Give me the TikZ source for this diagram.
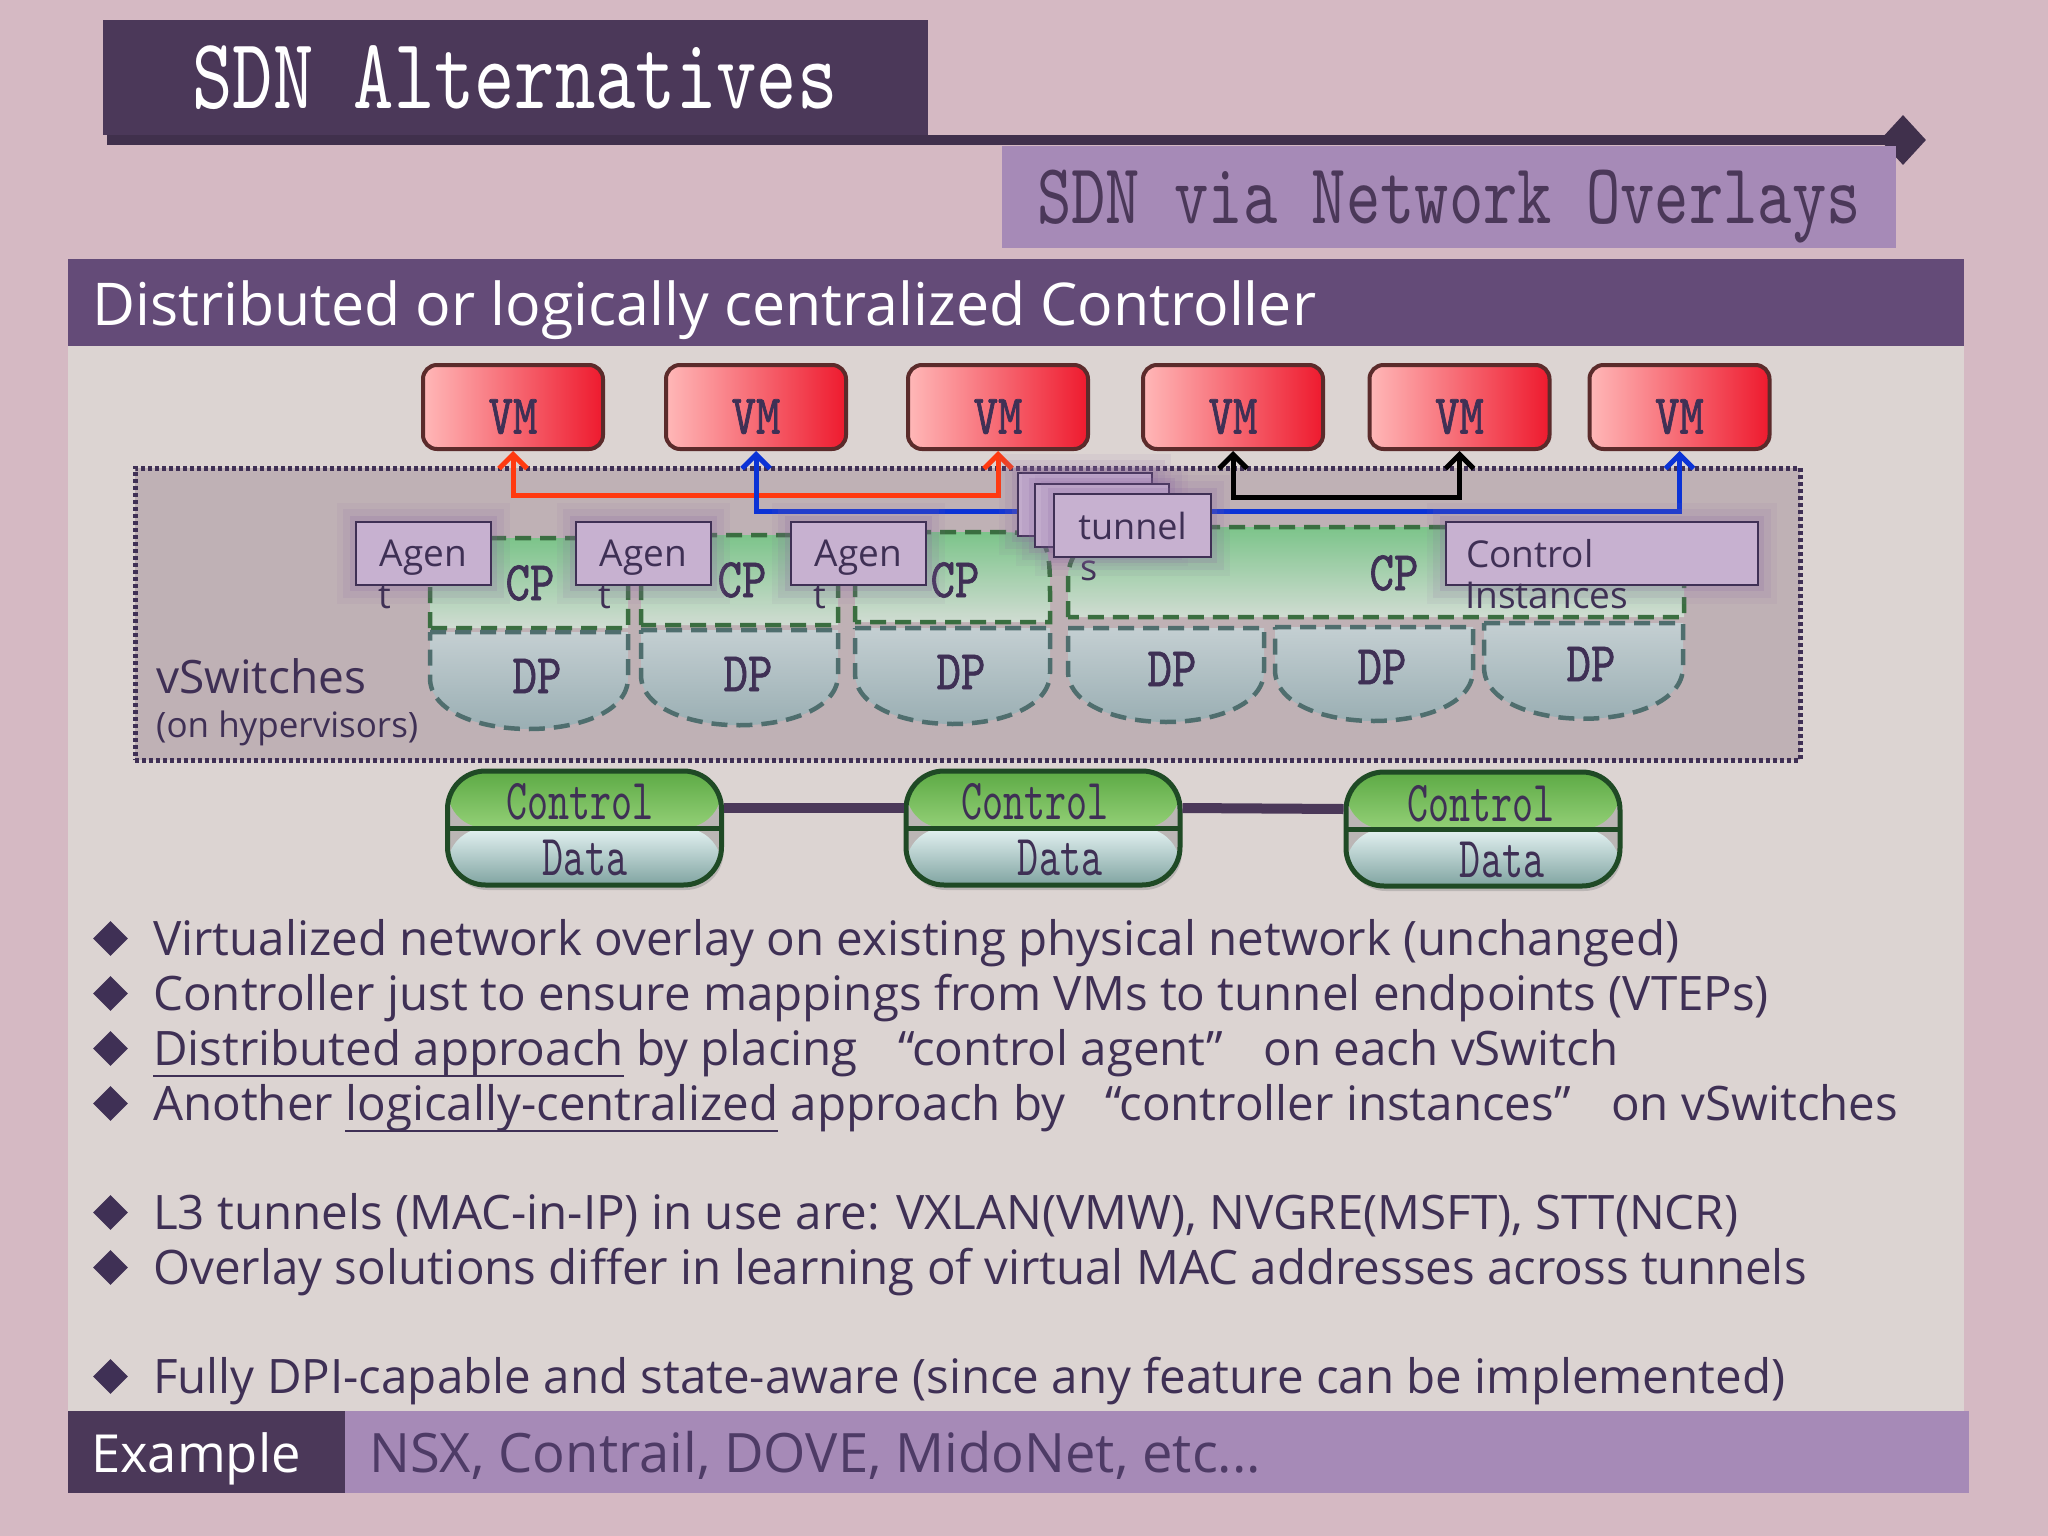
\documentclass[tikz,border=0pt]{standalone}
\usepackage{fontspec}
\setmainfont{Open Sans}
\newfontfamily\titlefont[FakeStretch=0.76]{lmmono10-regular.otf}
\newfontfamily\boxfont[FakeStretch=0.83, FakeBold=1.2]{lmmono10-regular.otf}
\newfontfamily\pillfont[FakeStretch=0.69]{lmmono10-regular.otf}
\newcommand{\slideul}[1]{\setbox0\hbox{#1}\leavevmode\rlap{\rule[-12pt]{\wd0}{2.5pt}}\box0\relax}
\usetikzlibrary{positioning, shapes.geometric, shadows, arrows.meta}
\definecolor{bgpink}{HTML}{D5B9C3}
\definecolor{darkplum}{HTML}{4B3859}
\definecolor{lightplum}{HTML}{A68AB7}
\definecolor{bandplum}{HTML}{644B78}
\definecolor{paper}{HTML}{DCD4D2}
\definecolor{inkplum}{HTML}{3F3055}
\definecolor{switchfill}{HTML}{BFB1B5}
\definecolor{agentfill}{HTML}{C7B1D0}
\definecolor{glowplum}{HTML}{8E6AA3}
\definecolor{vmpink}{HTML}{FFB8B8}
\definecolor{vmred}{HTML}{EE1A2E}
\definecolor{vmedge}{HTML}{5B2B2B}
\definecolor{cpgreen}{HTML}{7CC48A}
\definecolor{cplight}{HTML}{D0DCD2}
\definecolor{cpedge}{HTML}{3A6E40}
\definecolor{dplight}{HTML}{C4CFD2}
\definecolor{dpfill}{HTML}{93A9AE}
\definecolor{dpedge}{HTML}{4F6E6E}
\definecolor{tunred}{HTML}{FF3A10}
\definecolor{tunblue}{HTML}{0B33D6}
\definecolor{pilltop}{HTML}{5DAA45}
\definecolor{pillgreen}{HTML}{C9F5A8}
\definecolor{pillcyan}{HTML}{E4F2F2}
\definecolor{pillteal}{HTML}{80A4A1}
\definecolor{pilledge}{HTML}{1F4A25}
\definecolor{listplum}{HTML}{4E3B66}

\begin{document}
\begin{tikzpicture}[x=1pt, y=-1pt, on grid,
   titlebox/.style={fill=darkplum, minimum width=825pt, minimum height=115pt, inner sep=0pt,
      text=white, font=\titlefont\fontsize{101}{101}\selectfont},
   subbox/.style={fill=lightplum, minimum width=894pt, minimum height=102pt, inner sep=0pt,
      text=darkplum, text depth=0pt, font=\titlefont\fontsize{86}{86}\selectfont},
   titleline/.style={draw=darkplum!85!black, line width=10pt},
   tipmark/.style={diamond, fill=darkplum!85!black, minimum width=46pt, minimum height=50pt, inner sep=0pt},
   headband/.style={fill=bandplum, minimum width=1896pt, minimum height=88pt, inner sep=0pt},
   headtext/.style={anchor=base west, inner sep=0pt, text=white, font=\fontsize{59}{59}\selectfont},
   switchbox/.style={draw=inkplum, fill=switchfill, line width=5pt, dash pattern=on 4pt off 3pt,
      minimum width=1665pt, minimum height=292pt, inner sep=0pt},
   vm/.style={draw=vmedge, line width=4pt, rounded corners=14pt, left color=vmpink, right color=vmred,
      minimum width=180pt, minimum height=84pt, inner sep=0pt, text height=53pt, text depth=0pt,
      text=inkplum, font=\boxfont\fontsize{56}{56}\selectfont},
   glow/.style={preaction={draw=glowplum, draw opacity=0.08, line width=38pt, rounded corners=12pt},
      preaction={draw=glowplum, draw opacity=0.12, line width=26pt, rounded corners=8pt},
      preaction={draw=glowplum, draw opacity=0.18, line width=12pt}},
   agent/.style={draw=inkplum, line width=2pt, fill=agentfill, glow, minimum width=135pt,
      minimum height=63pt, inner sep=0pt, text depth=0pt, text=inkplum, font=\fontsize{37}{37}\selectfont},
   tunnelbox/.style={agent, minimum width=134pt, font=\fontsize{36}{36}\selectfont},
   spill/.style={anchor=base west, inner sep=0pt, text=inkplum, font=\fontsize{36}{36}\selectfont},
   cpzone/.style={draw=cpedge, line width=4.5pt, dash pattern=on 16pt off 9pt, top color=cpgreen, bottom color=cplight},
   dpzone/.style={draw=dpedge, line width=4.5pt, dash pattern=on 16pt off 9pt, top color=dplight, bottom color=dpfill},
   zonetext/.style={inner sep=0pt, text=inkplum, font=\boxfont\fontsize{56}{56}\selectfont},
   tunarrow/.style={{Straight Barb[length=14pt,width=28pt]}-{Straight Barb[length=14pt,width=28pt]}, line width=5pt},
   pill/.style={draw=pilledge, line width=5pt, rounded corners=38pt, minimum width=274pt, minimum height=114pt,
      inner sep=0pt, drop shadow={opacity=0.35, shadow xshift=2pt, shadow yshift=-5pt},
      path picture={
         \shade[top color=pilltop, bottom color=pillgreen] (path picture bounding box.north west) rectangle (path picture bounding box.east);
         \shade[top color=pillcyan, bottom color=pillteal] (path picture bounding box.west) rectangle (path picture bounding box.south east);
         \draw[pilledge, line width=5pt] (path picture bounding box.west) -- (path picture bounding box.east);
      }},
   pilltext/.style={inner sep=0pt, text=inkplum, font=\pillfont\fontsize{58}{58}\selectfont},
   link/.style={draw=darkplum, line width=10pt},
   bullet/.style={diamond, fill=inkplum, minimum width=35pt, minimum height=35pt, inner sep=0pt},
   item/.style={anchor=base west, inner sep=0pt, text=inkplum, font=\fontsize{47.5}{55}\selectfont},
   extext/.style={anchor=base west, inner sep=0pt, font=\fontsize{53}{53}\selectfont}]

   \useasboundingbox (0,0) rectangle (2048,1536);
   \fill[bgpink] (0,0) rectangle (2048,1536);

   % 标题区
   \draw[titleline] (107,140) -- (1890,140);
   \node[tipmark] (titletip) at (1903,140) {};
   \node[titlebox] (title) at (515,77.5) {SDN Alternatives};
   \node[subbox] (subtitle) at (1449,197) {SDN via Network Overlays};
   \node[headband] (band) at (1016,302.5) {};
   \node[headtext] (bandtext) at (92,325) {Distributed or logically centralized Controller};
   \fill[paper] (68,346) rectangle (1964,1411);

   % vSwitch 区域
   \node[switchbox] (vswitch) at (967.5,614) {};
   \node[vm] (vm1) at (513,407) {VM};
   \node[vm] (vm2) [right=243pt of vm1] {VM};
   \node[vm] (vm3) [right=242pt of vm2] {VM};
   \node[vm] (vm4) [right=235pt of vm3] {VM};
   \node[vm] (vm5) [right=226.5pt of vm4] {VM};
   \node[vm] (vm6) [right=220pt of vm5] {VM};

   % CP 与 DP
   \draw[cpzone] (430,628) -- (430,538) -- (583,538) .. controls (628,538) .. (628,583) -- (628,628) -- cycle;
   \draw[cpzone] (641,625) -- (641,535) -- (793,535) .. controls (838,535) .. (838,580) -- (838,625) -- cycle;
   \draw[cpzone] (855,622) -- (855,532) -- (980,532) .. controls (1050,532) .. (1050,602) -- (1050,622) -- cycle;
   \draw[cpzone] (1068,617) -- (1068,580) .. controls (1068,530) and (1120,527) .. (1230,527) -- (1684,527) -- (1684,617) -- cycle;
   \draw[dpzone] (430,632) -- (628,632) -- (628,678) .. controls (628,746) and (430,746) .. (430,678) -- cycle;
   \draw[dpzone] (641,630) -- (838,630) -- (838,675) .. controls (838,742) and (641,742) .. (641,675) -- cycle;
   \draw[dpzone] (855,628) -- (1050,628) -- (1050,673) .. controls (1050,741) and (855,741) .. (855,673) -- cycle;
   \draw[dpzone] (1068,628) -- (1264,628) -- (1264,671) .. controls (1264,739) and (1068,739) .. (1068,671) -- cycle;
   \draw[dpzone] (1275,627) -- (1473,627) -- (1473,670) .. controls (1473,738) and (1275,738) .. (1275,670) -- cycle;
   \draw[dpzone] (1484,623) -- (1683,623) -- (1683,667) .. controls (1683,736) and (1484,736) .. (1484,667) -- cycle;
   \node[zonetext] (cp1) at (530,583) {CP};
   \node[zonetext] (cp2) at (742,580) {CP};
   \node[zonetext] (cp3) at (955,580) {CP};
   \node[zonetext] (cp4) at (1394,573) {CP};
   \node[zonetext] (dp1) at (537,676) {DP};
   \node[zonetext] (dp2) at (748,674) {DP};
   \node[zonetext] (dp3) at (961,672) {DP};
   \node[zonetext] (dp4) at (1172,669) {DP};
   \node[zonetext] (dp5) at (1382,667) {DP};
   \node[zonetext] (dp6) at (1591,664) {DP};

   % 隧道连线
   \coordinate (redrail) at (0,495);
   \coordinate (blackrail) at (0,497);
   \coordinate (bluerail) at (0,511);
   \draw[tunarrow, tunred] (vm1.south) -- (vm1.south |- redrail) -- (vm3.south |- redrail) -- (vm3.south);
   \draw[tunarrow, tunblue] (vm2.south) -- (vm2.south |- bluerail) -- (vm6.south |- bluerail) -- (vm6.south);
   \draw[tunarrow, black] (vm4.south) -- (vm4.south |- blackrail) -- (vm5.south |- blackrail) -- (vm5.south);

   % 控制代理与控制实例
   \node[agent] (ag1) at (423.5,553.5) {Agen};
   \node[agent] (ag2) [right=220pt of ag1] {Agen};
   \node[agent] (ag3) [right=215pt of ag2] {Agen};
   \node[spill] (ag1t) at ([xshift=23pt,yshift=-22pt]ag1.south west) {t};
   \node[spill] (ag2t) at ([xshift=23pt,yshift=-22pt]ag2.south west) {t};
   \node[spill] (ag3t) at ([xshift=23pt,yshift=-22pt]ag3.south west) {t};
   \node[spill] (tuns) at (1080,580) {s};
   \node[tunnelbox] (tun3) at (1084.5,504.5) {};
   \node[tunnelbox] (tun2) at (1102,515.5) {};
   \node[tunnelbox, minimum width=157pt] (tun1) at (1132.5,525.5) {tunnel};
   \node[agent, minimum width=312pt, text width=272pt, align=left] (ctlinst) at (1602,553.5) {Control};
   \node[spill, font=\fontsize{37}{37}\selectfont] (ctlinst2) at ([xshift=20pt,yshift=-22pt]ctlinst.south west) {Instances};
   \node[spill, font=\fontsize{46}{46}\selectfont] (vswtext) at (156,693) {vSwitches};
   \node[spill, font=\fontsize{35}{35}\selectfont] (hvtext) at (156,737) {(on hypervisors)};

   % 物理网络
   \node[pill] (pill1) at (584.5,828) {};
   \node[pill] (pill2) at (1043,828) {};
   \node[pill] (pill3) at (1483,829) {};
   \draw[link] ([yshift=20pt]pill1.east) -- ([yshift=20pt]pill2.west);
   \draw[link] ([yshift=20pt]pill2.east) -- ([yshift=20pt]pill3.west);
   \node[pilltext] (ctl1) at (580,802) {Control};
   \node[pilltext] (dat1) at (585,858) {Data};
   \node[pilltext] (ctl2) at (1035,802) {Control};
   \node[pilltext] (dat2) at (1060,858) {Data};
   \node[pilltext] (ctl3) at (1481,804) {Control};
   \node[pilltext] (dat3) at (1502,860) {Data};

   % 要点
   \node[bullet] (b1) at (110.5,938.5) {};
   \node[item] (t1) at (153,955) {Virtualized network overlay on existing physical network (unchanged)};
   \node[bullet] (b2) at (110.5,993.5) {};
   \node[item] (t2) at (153,1010) {Controller just to ensure mappings from VMs to tunnel endpoints (VTEPs)};
   \node[bullet] (b3) at (110.5,1048.5) {};
   \node[item] (t3) at (153,1065) {\slideul{Distributed approach} by placing\hspace{0.85em}“control agent”\hspace{0.85em}on each vSwitch};
   \node[bullet] (b4) at (110.5,1103.5) {};
   \node[item] (t4) at (153,1120) {Another \slideul{logically-centralized} approach by\hspace{0.85em}“controller instances”\hspace{0.85em}on vSwitches};
   \node[bullet] (b5) at (110.5,1212.5) {};
   \node[item] (t5) at (153,1229) {L3 tunnels (MAC-in-IP) in use are: VXLAN(VMW), NVGRE(MSFT), STT(NCR)};
   \node[bullet] (b6) at (110.5,1267.5) {};
   \node[item] (t6) at (153,1284) {Overlay solutions differ in learning of virtual MAC addresses across tunnels};
   \node[bullet] (b7) at (110.5,1376.5) {};
   \node[item] (t7) at (153,1393) {Fully DPI-capable and state-aware (since any feature can be implemented)};

   % 示例栏
   \fill[darkplum] (68,1411) rectangle (345,1493);
   \fill[lightplum] (345,1411) rectangle (1969,1493);
   \node[extext, text=white, font=\fontsize{52.5}{53}\selectfont] (exlabel) at (91,1472) {Example};
   \node[extext, text=listplum, font=\fontsize{54.3}{55}\selectfont] (exlist) at (369,1472) {NSX, Contrail, DOVE, MidoNet, etc...};
\end{tikzpicture}
\end{document}
